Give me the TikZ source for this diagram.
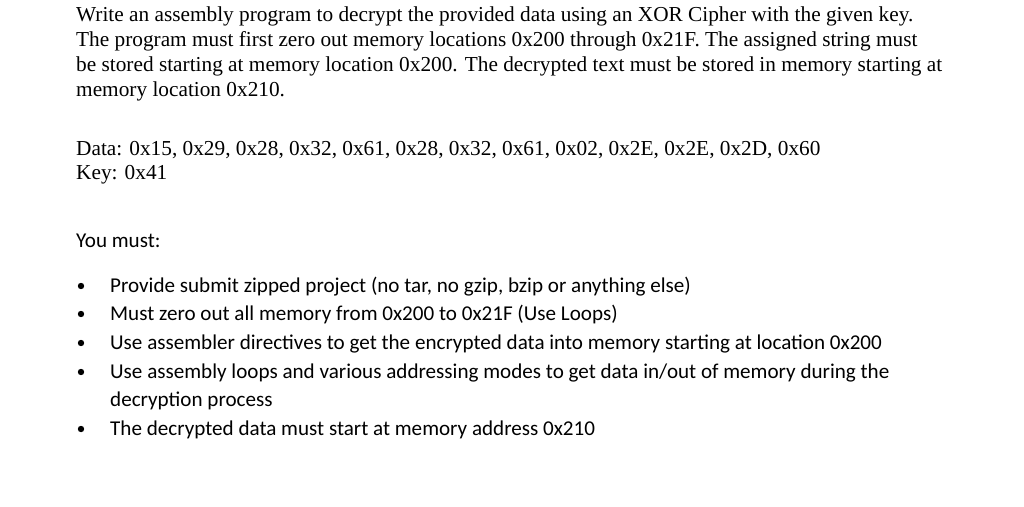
\documentclass[tikz,border=0pt]{standalone}
\usepackage{fontspec}
\setmainfont{Liberation Serif}
\newfontfamily\calibrifont{Carlito}
\begin{document}
\begin{tikzpicture}[x=1pt,y=-1pt,
 tl/.style={anchor=base west,inner sep=0pt,font=\fontsize{21.3}{22}\selectfont},
 cl/.style={anchor=base west,inner sep=0pt,font=\calibrifont\fontsize{21.1}{22}\selectfont}]
\useasboundingbox (0,0) rectangle (1024,506);
\node[tl] (l1) at (76,21) {Write an assembly program to decrypt the provided data using an XOR Cipher with the given key.};
\node[tl] (l2) at (76,46) {The program must first zero out memory locations 0x200 through 0x21F. The assigned string must};
\node[tl] (l3) at (76,71) {be stored starting at memory location 0x200. The decrypted text must be stored in memory starting at};
\node[tl] (l4) at (76,96) {memory location 0x210.};
\node[tl] (d) at (76,155) {Data: 0x15, 0x29, 0x28, 0x32, 0x61, 0x28, 0x32, 0x61, 0x02, 0x2E, 0x2E, 0x2D, 0x60};
\node[tl] (k) at (76,179) {Key: 0x41};
\node[cl] (m) at (76,247) {You must:};
\foreach \y/\t [count=\i] in {292/{Provide submit zipped project (no tar, no gzip, bzip or anything else)},
 320/{Must zero out all memory from 0x200 to 0x21F (Use Loops)},
 349/{Use assembler directives to get the encrypted data into memory starting at location 0x200},
 378/{Use assembly loops and various addressing modes to get data in/out of memory during the},
 435/{The decrypted data must start at memory address 0x210}}{
 \node[cl] (b\i) at (110,\y) {\t};
 \fill (81,\y-6) circle (3.2) coordinate (dot\i);
}
\node[cl] (b4b) at (110,406) {decryption process};
\end{tikzpicture}
\end{document}
